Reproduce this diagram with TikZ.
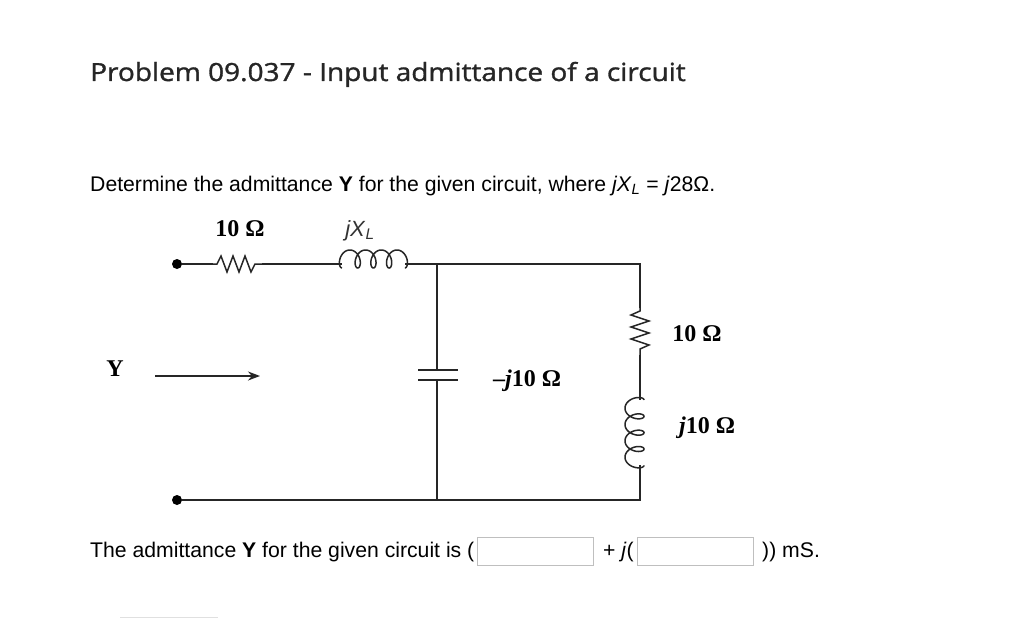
\documentclass[tikz,border=0pt]{standalone}
\usepackage{fontspec}
\usetikzlibrary{arrows.meta}
\setmainfont{Liberation Sans}
\newfontfamily\titlefont[FakeBold=1.2]{Open Sans}
\newfontfamily\cfont{Liberation Serif}
\begin{document}
\begin{tikzpicture}[x=1pt,y=-1pt,
  wire/.style={line width=1.5pt,color=black!85},
  lab/.style={font=\cfont\bfseries\fontsize{24}{24}\selectfont,anchor=base},
  txt/.style={font=\fontsize{21.2}{23}\selectfont,anchor=base west,inner sep=0},
  ansbox/.style={draw=black!25,line width=0.8pt,minimum width=116pt,minimum height=28pt,inner sep=0},
  dotc/.style={circle,fill=black,inner sep=0,minimum size=10pt}]
\useasboundingbox (0,0) rectangle (1024,618);
\fill[white] (0,0) rectangle (1024,618);
% texts
\node[font=\titlefont\fontsize{25}{26}\selectfont,anchor=base west,inner sep=0,text=black!85,xscale=1.12,transform shape] (title) at (90,81) {Problem 09.037 - Input admittance of a circuit};
\node[txt] (q) at (90,191) {Determine the admittance \textbf{Y} for the given circuit, where \textit{jX}\textsubscript{\textit{L}} = \textit{j}28Ω.};
\node[txt] (a) at (90,557) {The admittance \textbf{Y} for the given circuit is (};
\node[ansbox,anchor=west] (b1) at (477,551) {};
\node[txt] (pj) at (603,557) {+ \textit{j}(};
\node[ansbox,anchor=west] (b2) at (637,551) {};
\node[txt] (ms) at (762,557) {)) mS.};
\draw[black!12,line width=1pt] (120,617) -- (218,617);
% circuit
\node[dotc] (t1) at (177,264) {};
\node[dotc] (t2) at (177,500) {};
\coordinate (r1a) at (213,264); \coordinate (r1b) at (262,264);
\coordinate (l1a) at (342,264); \coordinate (l1b) at (405,264);
\coordinate (tr) at (640,264); \coordinate (tj) at (437,264);
\coordinate (bj) at (437,500); \coordinate (br) at (640,500);
\coordinate (c1) at (437,370); \coordinate (c2) at (437,380);
\coordinate (r2a) at (640,308); \coordinate (r2b) at (640,355);
\coordinate (l2a) at (640,400); \coordinate (l2b) at (640,465);
\draw[wire] (t1) -- (r1a);
\draw[wire] (r1a) -- ++(4,0) -- ++(4,-8) -- ++(6,16) -- ++(6,-16) -- ++(6,16) -- ++(6,-16) -- ++(6,16) -- ++(4,-8) -- (r1b);
\draw[wire] (r1b) -- (l1a);
\draw[wire,samples=300,domain=0:25.13] plot ({342+2.5*\x-6*sin(\x r)},{268-9*(1-cos(\x r))});
\draw[wire] (l1b) -- (tr) -- (r2a);
\draw[wire] (r2a) -- ++(0,3) -- ++(-9,4) -- ++(18,6) -- ++(-18,6) -- ++(18,6) -- ++(-18,6) -- ++(18,6) -- ++(-9,4) -- (r2b);
\draw[wire] (r2b) -- (l2a);
\draw[wire,samples=300,domain=0:25.13] plot ({644-9.5*(1-cos(\x r))},{400+2.6*\x-6*sin(\x r)});
\draw[wire] (l2b) -- (br) -- (bj) -- (t2);
\draw[wire] (tj) -- (c1); \draw[wire] (c2) -- (bj);
\draw[wire] (418,370) -- (458,370); \draw[wire] (418,380) -- (458,380);
% Y arrow
\node[lab] (Y) at (115,376) {Y};
\coordinate (ya) at (155,376); \coordinate (yb) at (260,376);
\draw[wire,-{Stealth[length=12pt,width=9pt]}] (ya) -- (yb);
% labels
\node[lab] (lr1) at (240,236) {10 Ω};
\node[font=\fontsize{22}{22}\selectfont,anchor=base,text=black!80] (lx) at (360,236) {\textit{jX}\textsubscript{\textit{L}}};
\node[lab] (lr2) at (697,341) {10 Ω};
\node[lab] (lc) at (527,386) {–\textit{j}10 Ω};
\node[lab] (ll2) at (707,433) {\textit{j}10 Ω};
\end{tikzpicture}
\end{document}
